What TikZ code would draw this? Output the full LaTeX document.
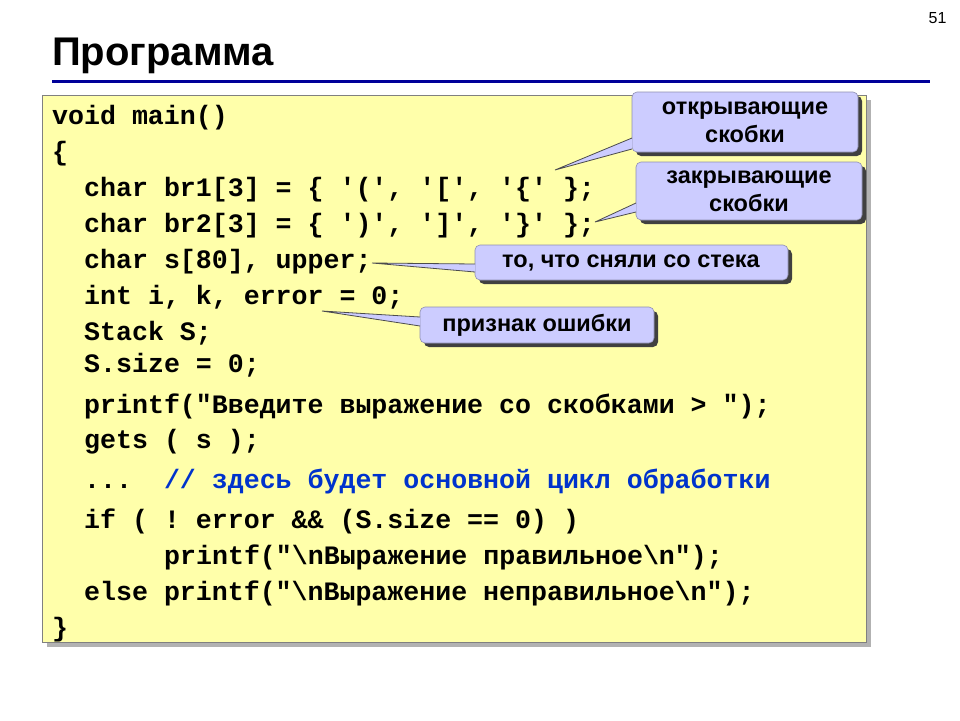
\documentclass[tikz,border=0pt]{standalone}
\usepackage{fontspec}
\setmainfont{Liberation Sans}
\setmonofont{Liberation Mono}
\begin{document}
\begin{tikzpicture}[x=1pt,y=-1pt,
  code/.style={anchor=base west,inner sep=0pt,font=\fontsize{26.6}{30}\ttfamily\bfseries},
  call/.style={fill=calfill,rounded corners=5pt,draw=calfill!70!black,line width=0.6pt},
  tail/.style={fill=calfill,draw=black!70,line width=0.8pt},
  ctext/.style={font=\fontsize{23.5}{28}\bfseries,align=center,inner sep=0pt}]
\definecolor{yel}{RGB}{255,255,170}
\definecolor{calfill}{RGB}{204,204,255}
\definecolor{tblue}{RGB}{0,0,153}
\definecolor{cblue}{RGB}{0,51,204}
\useasboundingbox (0,0) rectangle (960,720);
\fill[white] (0,0) rectangle (960,720);
\node[anchor=east,font=\fontsize{16}{18}\selectfont] (pg) at (950,18) {51};
\node[anchor=base west,inner sep=0pt,font=\fontsize{40}{44}\bfseries] (title) at (52,65) {Программа};
\draw[tblue,line width=3pt] (52,81) -- (930,81);
% code box
\fill[gray!60] (47,100) rectangle (871,647);
\draw[gray,fill=yel] (42,95) rectangle (866,642);
\node[code] (l1) at (52,124) {void main()};
\node[code] (l2) at (52,160) {\{};
\node[code] (l3) at (84,196) {char br1[3] = \{ '(', '[', '\{' \};};
\node[code] (l4) at (84,232) {char br2[3] = \{ ')', ']', '\}' \};};
\node[code] (l5) at (84,268) {char s[80], upper;};
\node[code] (l6) at (84,304) {int i, k, error = 0;};
\node[code] (l7) at (84,340) {Stack S;};
\node[code] (l8) at (84,372) {S.size = 0;};
\node[code] (l9) at (84,413) {printf("Введите выражение со скобками > ");};
\node[code] (l10) at (84,448) {gets ( s );};
\node[code] (l11) at (84,488) {...~~\textcolor{cblue}{// здесь будет основной цикл обработки}};
\node[code] (l12) at (84,528) {if ( ! error \&\& (S.size == 0) )};
\node[code] (l13) at (164,564) {printf("\textbackslash nВыражение правильное\textbackslash n");};
\node[code] (l14) at (84,600) {else printf("\textbackslash nВыражение неправильное\textbackslash n");};
\node[code] (l15) at (52,636) {\}};
% callout 1
\coordinate (p1) at (555,170);
\fill[black!75,rounded corners=5pt] (636,96) rectangle (862,156);
\draw[call] (632,92) rectangle (858,152);
\draw[tail] (632,138) -- (p1) -- (632,149);
\node[ctext] (c1) at (745,122) {открывающие\\скобки};
% callout 2
\coordinate (p2) at (595,222);
\fill[black!75,rounded corners=5pt] (640,166) rectangle (866,224);
\draw[call] (636,162) rectangle (862,220);
\draw[tail] (636,203) -- (p2) -- (636,212);
\node[ctext] (c2) at (749,191) {закрывающие\\скобки};
% callout 3
\coordinate (p3) at (372,263);
\fill[black!75,rounded corners=5pt] (479,249) rectangle (792,284);
\draw[call] (475,245) rectangle (788,280);
\draw[tail] (475,264) -- (p3) -- (475,272);
\node[ctext] (c3) at (631,263) {то, что сняли со стека};
% callout 4
\coordinate (p4) at (322,311);
\fill[black!75,rounded corners=5pt] (424,311) rectangle (658,347);
\draw[call] (420,307) rectangle (654,343);
\draw[tail] (420,317) -- (p4) -- (420,326);
\node[ctext] (c4) at (537,325) {признак ошибки};
\end{tikzpicture}
\end{document}
